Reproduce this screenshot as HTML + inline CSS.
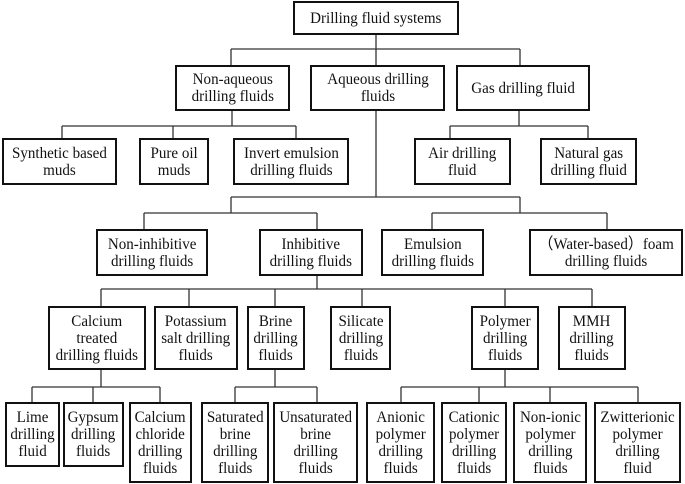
<!DOCTYPE html>
<html><head><meta charset="utf-8"><style>
html,body{margin:0;padding:0;background:#fff;}
#c{position:relative;width:685px;height:484px;overflow:hidden;font-family:"Liberation Serif",serif;font-size:16px;color:#111;}
.b{position:absolute;box-sizing:border-box;border:2px solid #111;display:flex;align-items:center;justify-content:center;text-align:center;line-height:17px;background:#fff;}
.b span{display:inline-block;transform:scaleX(0.94);white-space:nowrap;}
svg{position:absolute;left:0;top:0;}
</style></head><body><div id="c">
<svg width="685" height="484" stroke="#333" stroke-width="1.3" fill="none">
<path d="M376 35V49M231 49H520M231 49V65M376 49V65M520 49V65"/>
<path d="M232 111V126M62 126H296M62 126V138M173 126V138M296 126V138"/>
<path d="M519 111V126M450 126H588M450 126V138M588 126V138"/>
<path d="M376 111V197M231 197H520M231 197V213M520 197V213M144 213H317M144 213V229M317 213V229M432 213H607M432 213V229M607 213V229"/>
<path d="M317 276V289M101 289H592M101 289V306M189 289V306M275 289V306M362 289V306M505 289V306M592 289V306"/>
<path d="M101 370V387M32 387H160M32 387V402M93 387V402M160 387V402"/>
<path d="M275 370V387M235 387H317M235 387V402M317 387V402"/>
<path d="M505 370V387M401 387H638M401 387V402M479 387V402M550 387V402M638 387V402"/>
</svg>
<div class="b" style="left:293px;top:1px;width:166px;height:34px"><span>Drilling fluid systems</span></div>
<div class="b" style="left:175px;top:65px;width:115px;height:46px"><span>Non-aqueous<br>drilling fluids</span></div>
<div class="b" style="left:310px;top:65px;width:135px;height:46px"><span>Aqueous drilling<br>fluids</span></div>
<div class="b" style="left:456px;top:65px;width:134px;height:46px"><span>Gas drilling fluid</span></div>
<div class="b" style="left:2px;top:138px;width:115px;height:47px"><span>Synthetic based<br>muds</span></div>
<div class="b" style="left:139px;top:138px;width:70px;height:47px"><span>Pure oil<br>muds</span></div>
<div class="b" style="left:233px;top:138px;width:116px;height:47px"><span>Invert emulsion<br>drilling fluids</span></div>
<div class="b" style="left:414px;top:138px;width:97px;height:47px"><span>Air drilling<br>fluid</span></div>
<div class="b" style="left:540px;top:138px;width:97px;height:47px"><span>Natural gas<br>drilling fluid</span></div>
<div class="b" style="left:96px;top:229px;width:112px;height:47px"><span>Non-inhibitive<br>drilling fluids</span></div>
<div class="b" style="left:259px;top:229px;width:104px;height:47px"><span>Inhibitive<br>drilling fluids</span></div>
<div class="b" style="left:381px;top:229px;width:103px;height:47px"><span>Emulsion<br>drilling fluids</span></div>
<div class="b" style="left:529px;top:229px;width:154px;height:47px"><span>（Water-based）foam<br>drilling fluids</span></div>
<div class="b" style="left:48px;top:306px;width:98px;height:64px"><span>Calcium<br>treated<br>drilling fluids</span></div>
<div class="b" style="left:154px;top:306px;width:84px;height:64px"><span>Potassium<br>salt drilling<br>fluids</span></div>
<div class="b" style="left:247px;top:306px;width:58px;height:64px"><span>Brine<br>drilling<br>fluids</span></div>
<div class="b" style="left:330px;top:306px;width:61px;height:64px"><span>Silicate<br>drilling<br>fluids</span></div>
<div class="b" style="left:471px;top:306px;width:68px;height:64px"><span>Polymer<br>drilling<br>fluids</span></div>
<div class="b" style="left:558px;top:306px;width:68px;height:64px"><span>MMH<br>drilling<br>fluids</span></div>
<div class="b" style="left:5px;top:402px;width:55px;height:65px"><span>Lime<br>drilling<br>fluid</span></div>
<div class="b" style="left:63px;top:402px;width:61px;height:65px"><span>Gypsum<br>drilling<br>fluids</span></div>
<div class="b" style="left:129px;top:402px;width:63px;height:81px"><span>Calcium<br>chloride<br>drilling<br>fluids</span></div>
<div class="b" style="left:201px;top:402px;width:68px;height:81px"><span>Saturated<br>brine<br>drilling<br>fluids</span></div>
<div class="b" style="left:273px;top:402px;width:85px;height:81px"><span>Unsaturated<br>brine<br>drilling<br>fluids</span></div>
<div class="b" style="left:366px;top:402px;width:69px;height:81px"><span>Anionic<br>polymer<br>drilling<br>fluids</span></div>
<div class="b" style="left:441px;top:402px;width:66px;height:81px"><span>Cationic<br>polymer<br>drilling<br>fluids</span></div>
<div class="b" style="left:513px;top:402px;width:74px;height:81px"><span>Non-ionic<br>polymer<br>drilling<br>fluids</span></div>
<div class="b" style="left:594px;top:402px;width:87px;height:81px"><span>Zwitterionic<br>polymer<br>drilling<br>fluid</span></div>
</div></body></html>
